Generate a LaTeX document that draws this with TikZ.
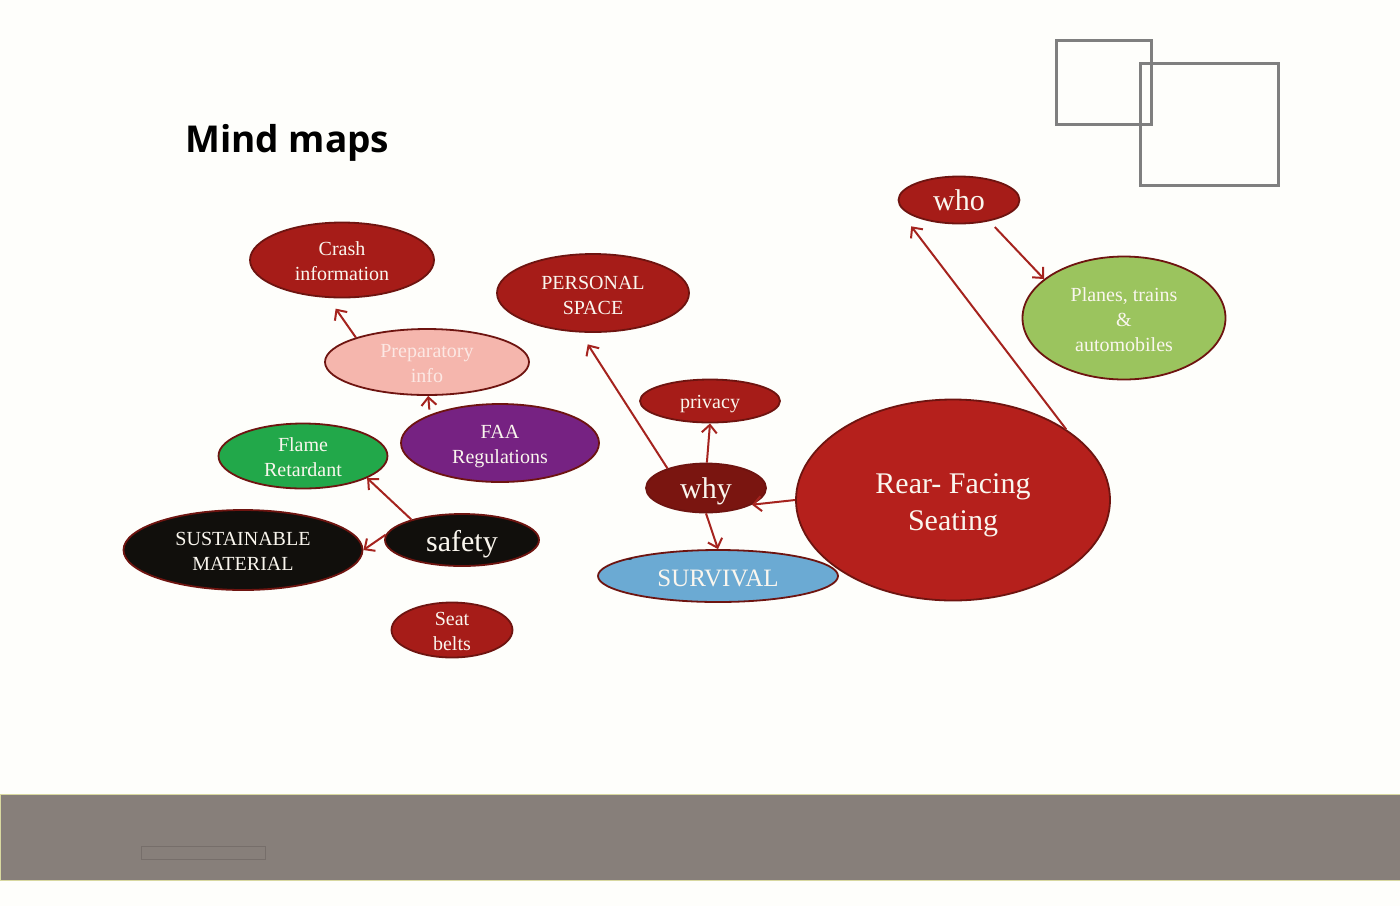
\documentclass[tikz,border=0pt]{standalone}
\usepackage{fontspec}
\setmainfont{Liberation Serif}
\newfontfamily\titlefont{Open Sans}
\usetikzlibrary{shapes.geometric,arrows.meta}
\definecolor{bgc}{RGB}{254,254,251}
\definecolor{edgec}{RGB}{110,20,16}
\definecolor{arrc}{RGB}{165,35,30}
\definecolor{redA}{RGB}{166,28,24}
\definecolor{redB}{RGB}{181,32,28}
\definecolor{whyc}{RGB}{122,21,16}
\definecolor{pinkc}{RGB}{245,182,173}
\definecolor{purplec}{RGB}{118,34,130}
\definecolor{greenA}{RGB}{34,168,74}
\definecolor{greenB}{RGB}{155,196,94}
\definecolor{blackc}{RGB}{17,15,12}
\definecolor{bluec}{RGB}{107,170,211}
\definecolor{txt}{RGB}{250,246,238}
\definecolor{pinktxt}{RGB}{252,232,228}
\definecolor{boxc}{RGB}{127,127,127}
\definecolor{barc}{RGB}{135,127,122}
\definecolor{barline}{RGB}{216,216,160}
\definecolor{smallbox}{RGB}{118,110,106}
\tikzset{
  bub/.style={ellipse, draw=edgec, line width=1.8pt, inner sep=0pt},
  lbl/.style={align=center, text=txt, inner sep=0pt, font=\fontsize{20}{25}\selectfont},
  big/.style={font=\fontsize{30}{37}\selectfont},
  arr/.style={draw=arrc, line width=2pt, -{Straight Barb[length=8pt,width=15pt]}},
  deco/.style={draw=boxc, line width=3pt},
}
\begin{document}
\begin{tikzpicture}[x=1pt,y=-1pt]
\fill[bgc] (0,0) rectangle (1400,906);
\useasboundingbox (0,0) rectangle (1400,906);
% bottom bar
\draw[fill=barc, draw=barline, line width=1pt] (0,794) rectangle (1400,880);
\draw[draw=smallbox, line width=1pt] (141,846) rectangle (265,859);
% decorative squares
\draw[deco] (1056,40) rectangle (1151,124);
\draw[deco] (1140,63) rectangle (1278,185);
% title
\node[anchor=base west, inner sep=0pt, font=\titlefont\bfseries\fontsize{37}{40}\selectfont] (title) at (185,152) {Mind maps};
% bubbles
\node[bub, fill=redA, minimum width=184pt, minimum height=75pt,
  label={[lbl, yshift=-1pt]center:{Crash\\information}}] (crash) at (342,260) {};
\node[bub, fill=redA, minimum width=192pt, minimum height=78pt,
  label={[lbl, yshift=-2pt]center:{PERSONAL\\SPACE}}] (personal) at (593,293) {};
\node[bub, fill=pinkc, minimum width=204pt, minimum height=66pt,
  label={[lbl, text=pinktxt, yshift=-2pt]center:{Preparatory\\info}}] (prep) at (427,362) {};
\node[bub, fill=purplec, minimum width=198pt, minimum height=78pt,
  label={[lbl, yshift=-4pt]center:{FAA\\Regulations}}] (faa) at (500,443) {};
\node[bub, fill=greenA, minimum width=169pt, minimum height=65pt,
  label={[lbl, yshift=-1pt]center:{Flame\\Retardant}}] (flame) at (303,456) {};
\node[bub, fill=blackc, minimum width=239pt, minimum height=80pt,
  label={[lbl, yshift=-1pt]center:{SUSTAINABLE\\MATERIAL}}] (sust) at (243,550) {};
\node[bub, fill=blackc, minimum width=154pt, minimum height=52pt,
  label={[lbl, big, yshift=-4pt]center:{safety}}] (safety) at (462,540) {};
\node[bub, fill=redA, minimum width=121pt, minimum height=55pt,
  label={[lbl, yshift=-1pt]center:{Seat\\belts}}] (seat) at (452,630) {};
\node[bub, fill=redA, minimum width=140pt, minimum height=43pt,
  label={[lbl, yshift=-3pt]center:{privacy}}] (privacy) at (710,401) {};
\node[bub, fill=whyc, minimum width=120pt, minimum height=49pt,
  label={[lbl, big, yshift=-3pt]center:{why}}] (why) at (706,488) {};
\node[bub, fill=redB, minimum width=314pt, minimum height=201pt,
  label={[lbl, big, yshift=-5pt]center:{Rear- Facing\\Seating}}] (rear) at (953,500) {};
\node[bub, fill=bluec, minimum width=240pt, minimum height=52pt,
  label={[lbl, font=\fontsize{25}{30}\selectfont, yshift=-2pt]center:{SURVIVAL}}] (survival) at (718,576) {};
\node[anchor=center, inner sep=0pt, font=\fontsize{12}{12}\selectfont, text=black] (dash) at (630,561) {-};
\node[bub, fill=redA, minimum width=121pt, minimum height=47pt,
  label={[lbl, big]center:{who}}] (who) at (959,200) {};
\node[bub, fill=greenB, minimum width=203pt, minimum height=123pt,
  label={[lbl, yshift=-2pt]center:{Planes, trains\\\&\\automobiles}}] (planes) at (1124,318) {};
% connectors
\draw[arr, shorten >=13pt] (prep.161) -- (crash.250);
\draw[arr, shorten <=5pt] (faa.158) -- (prep.272);
\draw[arr] (safety.158) -- (flame.-19);
\draw[arr] (safety.176) -- (sust.east);
\draw[arr, shorten >=14pt] (why.153) -- (personal.252);
\draw[arr] (why.88) -- (privacy.south);
\draw[arr] (why.south) -- (survival.north);
\draw[arr] (rear.west) -- (why.-20);
\draw[arr] (rear.32) -- ([shift={(-12,6.5)}]who.209);
\draw[arr, shorten <=8pt] (who.-35) -- (planes.154);
\end{tikzpicture}
\end{document}
